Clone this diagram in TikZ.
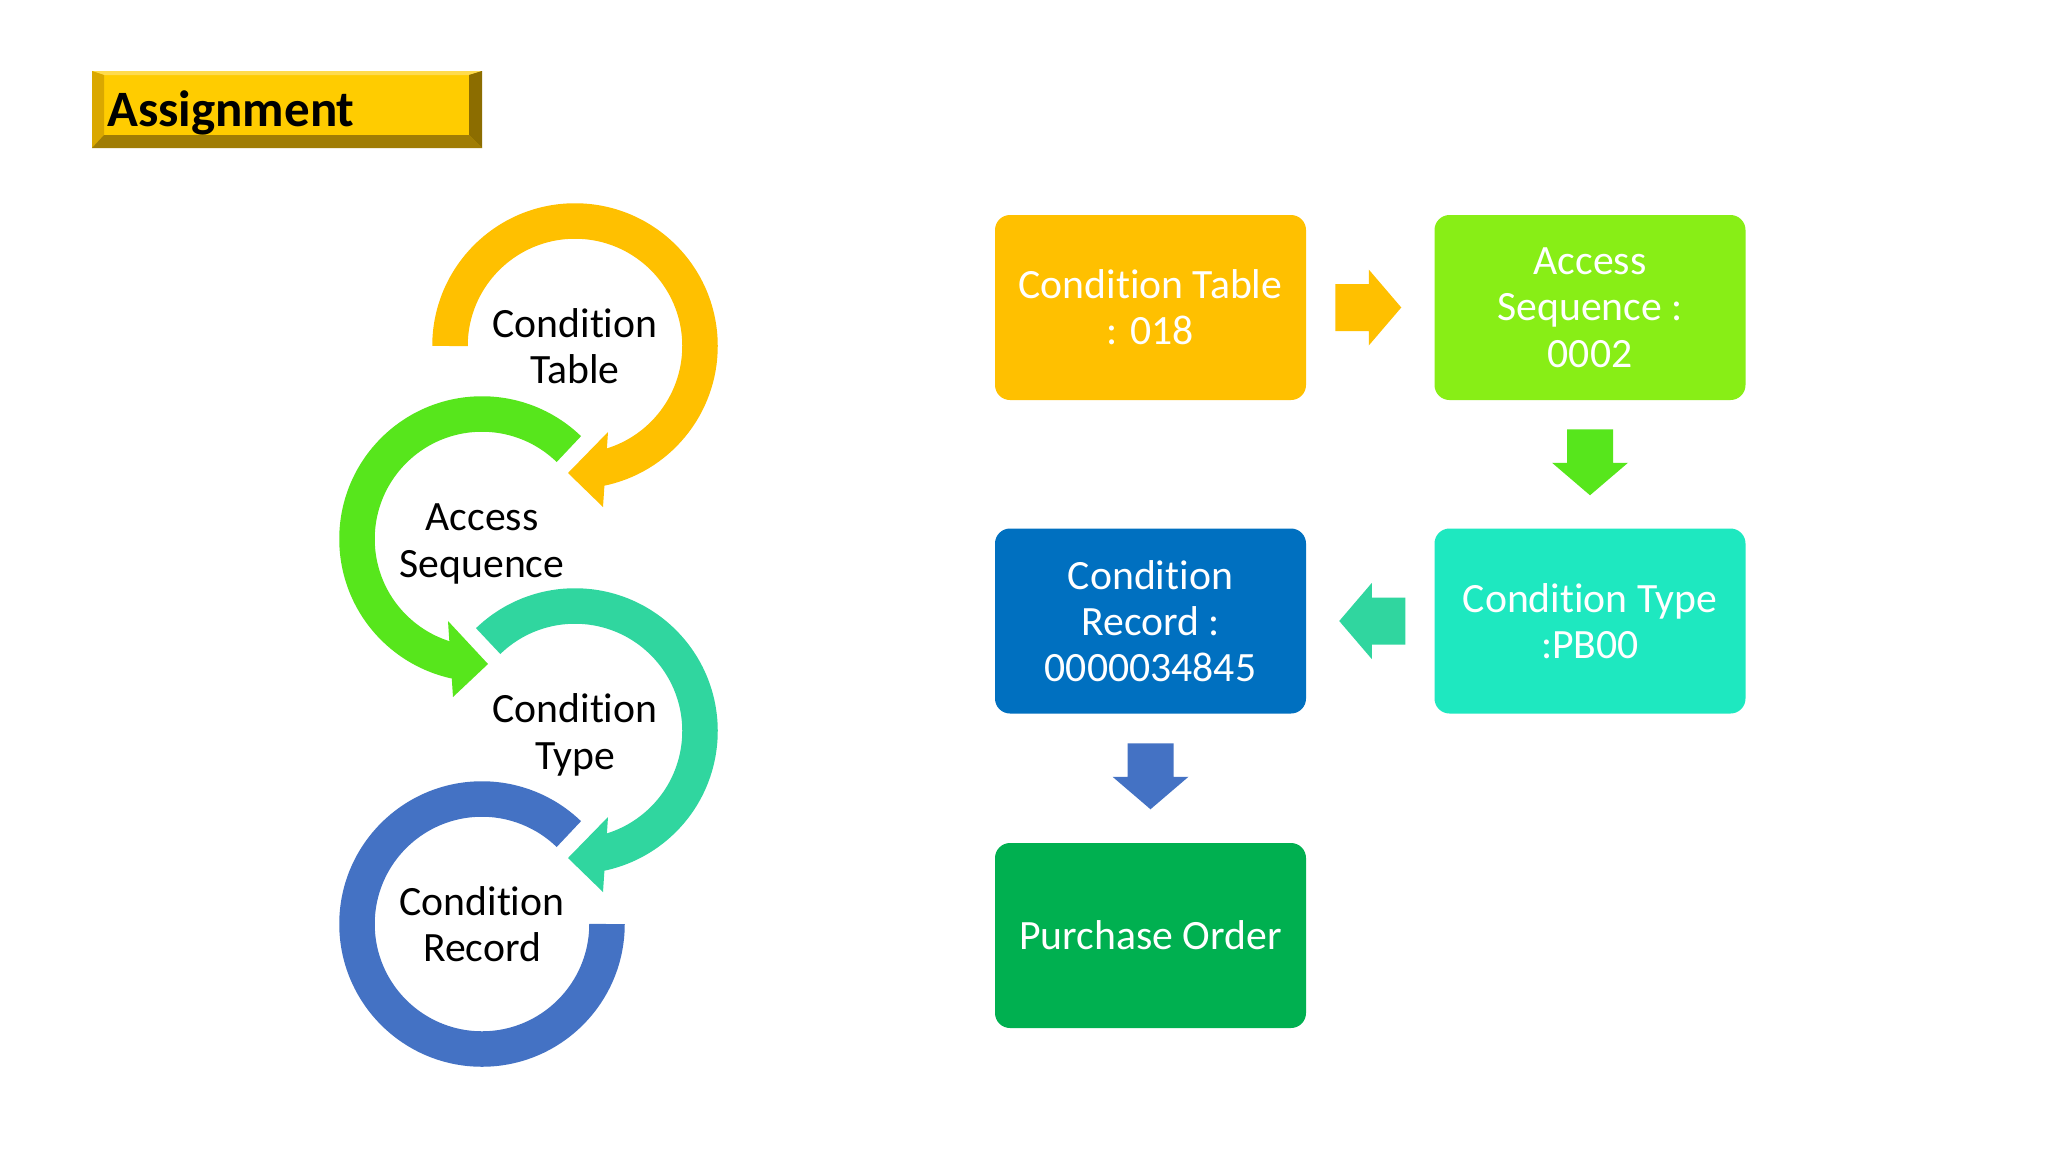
\documentclass[tikz,border=0pt]{standalone}
\usepackage{fontspec}
\setmainfont{Carlito}[Ligatures={NoCommon}]
\usetikzlibrary{calc}
\definecolor{cOrange}{HTML}{FFC000}
\definecolor{cGreenRing}{HTML}{57E61C}
\definecolor{cTeal}{HTML}{30D69F}
\definecolor{cBlue}{HTML}{4472C4}
\definecolor{cLime}{HTML}{88EE16}
\definecolor{cTurq}{HTML}{1EE8C0}
\definecolor{cDBlue}{HTML}{0070C0}
\definecolor{cPGreen}{HTML}{00B050}
\definecolor{bFace}{HTML}{FFCC00}
\definecolor{bTop}{HTML}{FFDB4D}
\definecolor{bLeft}{HTML}{DAA800}
\definecolor{bBottom}{HTML}{A07D05}
\definecolor{bRight}{HTML}{8C6D00}
\begin{document}
\begin{tikzpicture}[x=1pt,y=-1pt,
  ringtxt/.style={align=center, font=\fontsize{41.7}{46.3}\selectfont, inner sep=0pt, text=black},
  flowbox/.style={rounded corners=15pt, minimum width=311pt, minimum height=185pt, inner sep=0pt, align=center, text=white, font=\fontsize{41.7}{46.3}\selectfont},
  band/.style={line width=35.5pt}]
\fill[white] (0,0) rectangle (2048,1152);
\useasboundingbox (0,0) rectangle (2048,1152);

% title badge
\fill[bFace] (92,71) rectangle (482,148);
\fill[bTop] (92,71) -- (482,71) -- (469,75) -- (104,75) -- cycle;
\fill[bLeft] (92,71) -- (104,75) -- (104,135) -- (92,148) -- cycle;
\fill[bBottom] (92,148) -- (104,135) -- (469,135) -- (482,148) -- cycle;
\fill[bRight] (482,71) -- (469,75) -- (469,135) -- (482,148) -- cycle;
\node[anchor=base west, inner sep=0pt, font=\bfseries\fontsize{51}{60}\selectfont] (title) at (107,126) {Assignment};

% circular arrows
\draw[band, cOrange] (575,346) ++(180:125) arc[start angle=180, end angle=439, radius=125];
\fill[cOrange] (608,432) -- (603,507) -- (568,473) -- cycle;

\draw[band, cGreenRing] (482,539) ++(314:125) arc[start angle=314, end angle=101, radius=125];
\fill[cGreenRing] (448,621) -- (453,697) -- (488,664) -- cycle;

\draw[band, cTeal] (575,731) ++(226:125) arc[start angle=226, end angle=439, radius=125];
\fill[cTeal] (608,817) -- (603,892) -- (568,858) -- cycle;

\draw[band, cBlue] (482,924) ++(0:125) arc[start angle=0, end angle=314, radius=125];

\node[ringtxt] (t1) at (575,346) {Condition\\Table};
\node[ringtxt] (t2) at (482,544) {Access\\Sequence};
\node[ringtxt] (t3) at (575,735) {Condition\\Type};
\node[ringtxt] (t4) at (482,924) {Condition\\Record};

% flow boxes
\node[flowbox, fill=cOrange] (b1) at (1150.5,307.5) {Condition Table\\: 018};
\node[flowbox, fill=cLime] (b2) at (1590,307.5) {Access\\Sequence :\\0002};
\node[flowbox, fill=cDBlue] (b3) at (1150.5,621) {Condition\\Record :\\0000034845};
\node[flowbox, fill=cTurq] (b4) at (1590,621) {Condition Type\\:PB00};
\node[flowbox, fill=cPGreen] (b5) at (1150.5,935.5) {Purchase Order};

\coordinate (m12) at ($(b1.east)!0.5!(b2.west)$);
\coordinate (m24) at ($(b2.south)!0.5!(b4.north)$);
\coordinate (m43) at ($(b4.west)!0.5!(b3.east)$);
\coordinate (m35) at ($(b3.south)!0.5!(b5.north)$);

\begin{scope}[shift={(m12)}]
\fill[cOrange] (-35,-23.5) -- (-1.5,-23.5) -- (-1.5,-38) -- (31,0) -- (-1.5,38) -- (-1.5,23.5) -- (-35,23.5) -- cycle;
\end{scope}
\begin{scope}[shift={(m24)}]
\fill[cGreenRing] (-23,-35) -- (23,-35) -- (23,-1.5) -- (38,-1.5) -- (0,31) -- (-38,-1.5) -- (-23,-1.5) -- cycle;
\end{scope}
\begin{scope}[shift={(m43)}]
\fill[cTeal] (35,-23.5) -- (1.5,-23.5) -- (1.5,-38) -- (-31,0) -- (1.5,38) -- (1.5,23.5) -- (35,23.5) -- cycle;
\end{scope}
\begin{scope}[shift={(m35)}]
\fill[cBlue] (-23,-35) -- (23,-35) -- (23,-1.5) -- (38,-1.5) -- (0,31) -- (-38,-1.5) -- (-23,-1.5) -- cycle;
\end{scope}
\end{tikzpicture}
\end{document}
